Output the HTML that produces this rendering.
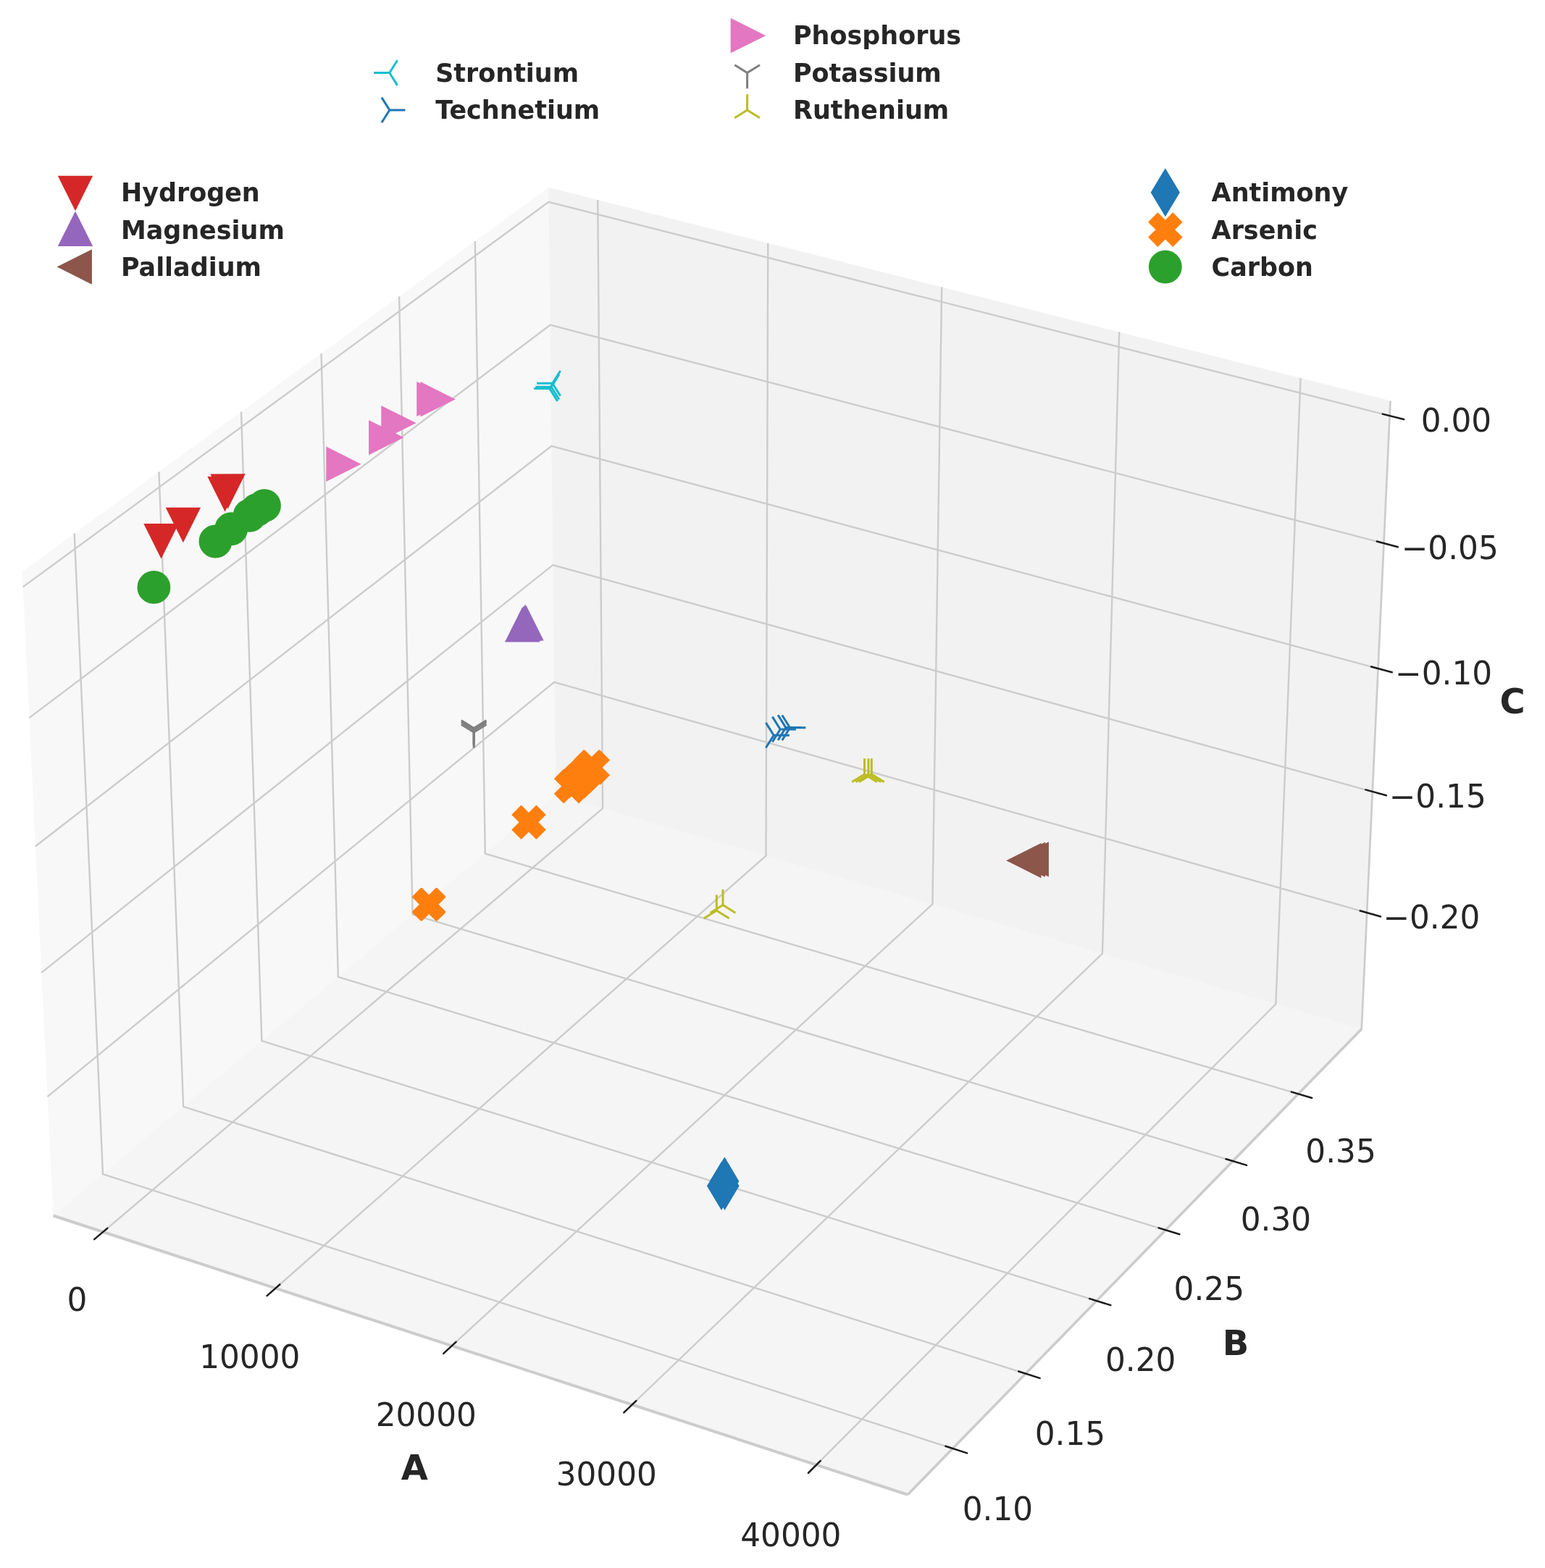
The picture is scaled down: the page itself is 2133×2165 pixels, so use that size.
<!DOCTYPE html>
<html lang="en"><head><meta charset="utf-8"><title>3D scatter plot</title>
<style>html,body{margin:0;padding:0;background:#fff}svg{display:block}text{white-space:pre}</style>
</head><body>
<svg xmlns="http://www.w3.org/2000/svg" width="2133" height="2165" viewBox="0 0 2133 2165">
<rect width="2133" height="2165" fill="#ffffff"/>
<g id="panes" stroke-linejoin="miter">
<polygon points="73.51,1678.51 767,1097.21 757.36,258.88 30.69,789.17" fill="#f2f2f2" fill-opacity="0.5" stroke="#f2f2f2" stroke-opacity="0.5" stroke-width="0"/>
<polygon points="767,1097.21 1879.8,1420.66 1919.52,553.45 757.36,258.88" fill="#e6e6e6" fill-opacity="0.5" stroke="#e6e6e6" stroke-opacity="0.5" stroke-width="0"/>
<polygon points="73.51,1678.51 1253.14,2063.77 1879.8,1420.66 767,1097.21" fill="#ececec" fill-opacity="0.5" stroke="#ececec" stroke-opacity="0.5" stroke-width="0"/>
</g>
<g id="grid" fill="none" stroke="#cccccc" stroke-width="2.4" stroke-linejoin="round" stroke-linecap="butt">
<polyline points="142.26,1700.96 832.13,1116.14 825.24,276.08"/>
<polyline points="380.42,1778.74 1057.47,1181.64 1060.24,335.65"/>
<polyline points="623.82,1858.24 1287.36,1248.46 1300.19,396.47"/>
<polyline points="872.65,1939.5 1521.94,1316.64 1545.25,458.58"/>
<polyline points="1127.08,2022.6 1761.36,1386.23 1795.58,522.04"/>
<polyline points="102.7,736.62 142,1621.1 1315.27,2000.01"/>
<polyline points="219.44,651.43 253.14,1527.94 1415.99,1896.65"/>
<polyline points="333,568.56 361.38,1437.21 1513.94,1796.12"/>
<polyline points="443.51,487.91 466.84,1348.81 1609.24,1698.32"/>
<polyline points="551.1,409.4 569.62,1262.66 1702,1603.13"/>
<polyline points="655.86,332.95 669.82,1178.67 1792.32,1510.44"/>
<polyline points="1887.16,1260.15 765.22,941.78 65.6,1514.13"/>
<polyline points="1894.81,1093.04 763.36,780.09 57.35,1342.88"/>
<polyline points="1902.59,923.05 761.47,615.74 48.96,1168.57"/>
<polyline points="1910.51,750.09 759.55,448.67 40.41,991.1"/>
<polyline points="1918.57,574.1 757.59,278.8 31.71,810.39"/>
</g>
<g id="axes" fill="none" stroke="#cccccc" stroke-linecap="butt">
<polyline points="73.51,1678.51 1253.14,2063.77" stroke-width="4.0"/>
<polyline points="1879.8,1420.66 1253.14,2063.77" stroke-width="3.6"/>
<polyline points="1879.8,1420.66 1919.52,553.45" stroke-width="2.7"/>
</g>
<g id="ticks" fill="none" stroke="#1c1c1c" stroke-width="2.5" stroke-linecap="round">
<polyline points="148.27,1695.87 130.22,1711.17"/>
<polyline points="386.32,1773.54 368.59,1789.17"/>
<polyline points="629.61,1852.92 612.22,1868.9"/>
<polyline points="878.32,1934.07 861.29,1950.41"/>
<polyline points="1132.63,2017.04 1115.97,2033.75"/>
<polyline points="1305.39,1996.81 1335.07,2006.4"/>
<polyline points="1406.2,1893.54 1435.6,1902.87"/>
<polyline points="1504.24,1793.1 1533.36,1802.17"/>
<polyline points="1599.64,1695.38 1628.48,1704.21"/>
<polyline points="1692.49,1600.26 1721.06,1608.85"/>
<polyline points="1782.9,1507.65 1811.2,1516.02"/>
<polyline points="1877.74,1257.47 1906.02,1265.5"/>
<polyline points="1885.3,1090.41 1913.84,1098.3"/>
<polyline points="1893,920.47 1921.79,928.22"/>
<polyline points="1900.84,747.56 1929.89,755.17"/>
<polyline points="1908.81,571.62 1938.12,579.08"/>
</g>
<g id="ticklabels" font-family="'DejaVu Sans', 'Liberation Sans', sans-serif" font-size="43.75" fill="#262626" text-anchor="middle">
<text x="106.44" y="1810">0</text>
<text x="344.73" y="1888.65">10000</text>
<text x="588.28" y="1969.03">20000</text>
<text x="837.26" y="2051.21">30000</text>
<text x="1091.87" y="2135.25">40000</text>
<text x="1377.4" y="2098.67">0.10</text>
<text x="1477.4" y="1994.51">0.15</text>
<text x="1574.66" y="1893.2">0.20</text>
<text x="1669.28" y="1794.63">0.25</text>
<text x="1761.38" y="1698.69">0.30</text>
<text x="1851.06" y="1605.29">0.35</text>
<text x="1976.42" y="1281.74">−0.20</text>
<text x="1984.71" y="1114.82">−0.15</text>
<text x="1993.15" y="945.01">−0.10</text>
<text x="2001.74" y="772.25">−0.05</text>
<text x="2010.48" y="596.46">0.00</text>
</g>
<g id="axlabels" font-family="'DejaVu Sans', 'Liberation Sans', sans-serif" font-weight="bold" font-size="47.9" fill="#262626" text-anchor="middle">
<text x="572.2" y="2043.3">A</text>
<text x="1706.1" y="1871">B</text>
<text x="2088" y="985">C</text>
</g>
<g id="markers">
<path transform="translate(1000.25 1630.9)" d="M0 -29.46 L17.68 0 L0 29.46 L-17.68 0Z" fill="#1f77b4" stroke="#1f77b4" stroke-width="4.17" stroke-linejoin="miter" stroke-miterlimit="10"/>
<path transform="translate(996 1637.6)" d="M0 -29.46 L17.68 0 L0 29.46 L-17.68 0Z" fill="#1f77b4" stroke="#1f77b4" stroke-width="4.17" stroke-linejoin="miter" stroke-miterlimit="10"/>
<path transform="translate(1000.5 1637.4)" d="M0 -29.46 L17.68 0 L0 29.46 L-17.68 0Z" fill="#1f77b4" stroke="#1f77b4" stroke-width="4.17" stroke-linejoin="miter" stroke-miterlimit="10"/>
<path transform="translate(592.2 1248.8)" d="M-10.42 -20.84 L0 -10.42 L10.42 -20.84 L20.84 -10.42 L10.42 0 L20.84 10.42 L10.42 20.84 L0 10.42 L-10.42 20.84 L-20.84 10.42 L-10.42 0 L-20.84 -10.42Z" fill="#ff7f0e" stroke="#ff7f0e" stroke-width="4.17" stroke-linejoin="round"/>
<path transform="translate(730 1135.3)" d="M-10.42 -20.84 L0 -10.42 L10.42 -20.84 L20.84 -10.42 L10.42 0 L20.84 10.42 L10.42 20.84 L0 10.42 L-10.42 20.84 L-20.84 10.42 L-10.42 0 L-20.84 -10.42Z" fill="#ff7f0e" stroke="#ff7f0e" stroke-width="4.17" stroke-linejoin="miter" stroke-miterlimit="10"/>
<path transform="translate(788.6 1085.6)" d="M-10.42 -20.84 L0 -10.42 L10.42 -20.84 L20.84 -10.42 L10.42 0 L20.84 10.42 L10.42 20.84 L0 10.42 L-10.42 20.84 L-20.84 10.42 L-10.42 0 L-20.84 -10.42Z" fill="#ff7f0e" stroke="#ff7f0e" stroke-width="4.17" stroke-linejoin="miter" stroke-miterlimit="10"/>
<path transform="translate(796.5 1078.7)" d="M-10.42 -20.84 L0 -10.42 L10.42 -20.84 L20.84 -10.42 L10.42 0 L20.84 10.42 L10.42 20.84 L0 10.42 L-10.42 20.84 L-20.84 10.42 L-10.42 0 L-20.84 -10.42Z" fill="#ff7f0e" stroke="#ff7f0e" stroke-width="4.17" stroke-linejoin="miter" stroke-miterlimit="10"/>
<path transform="translate(803.5 1072.2)" d="M-10.42 -20.84 L0 -10.42 L10.42 -20.84 L20.84 -10.42 L10.42 0 L20.84 10.42 L10.42 20.84 L0 10.42 L-10.42 20.84 L-20.84 10.42 L-10.42 0 L-20.84 -10.42Z" fill="#ff7f0e" stroke="#ff7f0e" stroke-width="4.17" stroke-linejoin="miter" stroke-miterlimit="10"/>
<path transform="translate(810 1065.8)" d="M-10.42 -20.84 L0 -10.42 L10.42 -20.84 L20.84 -10.42 L10.42 0 L20.84 10.42 L10.42 20.84 L0 10.42 L-10.42 20.84 L-20.84 10.42 L-10.42 0 L-20.84 -10.42Z" fill="#ff7f0e" stroke="#ff7f0e" stroke-width="4.17" stroke-linejoin="miter" stroke-miterlimit="10"/>
<path transform="translate(816.5 1058.7)" d="M-10.42 -20.84 L0 -10.42 L10.42 -20.84 L20.84 -10.42 L10.42 0 L20.84 10.42 L10.42 20.84 L0 10.42 L-10.42 20.84 L-20.84 10.42 L-10.42 0 L-20.84 -10.42Z" fill="#ff7f0e" stroke="#ff7f0e" stroke-width="4.17" stroke-linejoin="miter" stroke-miterlimit="10"/>
<path transform="translate(818.3 1059.9)" d="M-10.42 -20.84 L0 -10.42 L10.42 -20.84 L20.84 -10.42 L10.42 0 L20.84 10.42 L10.42 20.84 L0 10.42 L-10.42 20.84 L-20.84 10.42 L-10.42 0 L-20.84 -10.42Z" fill="#ff7f0e" stroke="#ff7f0e" stroke-width="4.17" stroke-linejoin="miter" stroke-miterlimit="10"/>
<circle cx="212.4" cy="810.9" r="20.84" fill="#2ca02c" stroke="#2ca02c" stroke-width="4.17"/>
<circle cx="297.5" cy="747.5" r="20.84" fill="#2ca02c" stroke="#2ca02c" stroke-width="4.17"/>
<circle cx="319.2" cy="730.3" r="20.84" fill="#2ca02c" stroke="#2ca02c" stroke-width="4.17"/>
<circle cx="344.6" cy="711.7" r="20.84" fill="#2ca02c" stroke="#2ca02c" stroke-width="4.17"/>
<circle cx="354.9" cy="704" r="20.84" fill="#2ca02c" stroke="#2ca02c" stroke-width="4.17"/>
<circle cx="365" cy="698.1" r="20.84" fill="#2ca02c" stroke="#2ca02c" stroke-width="4.17"/>
<path transform="translate(222.5 746)" d="M0 20.84 L20.83 -20.84 L-20.84 -20.83Z" fill="#d62728" stroke="#d62728" stroke-width="4.17" stroke-linejoin="miter" stroke-miterlimit="10"/>
<path transform="translate(252.9 723.7)" d="M0 20.84 L20.83 -20.84 L-20.84 -20.83Z" fill="#d62728" stroke="#d62728" stroke-width="4.17" stroke-linejoin="miter" stroke-miterlimit="10"/>
<path transform="translate(310.6 680.9)" d="M0 20.84 L20.83 -20.84 L-20.84 -20.83Z" fill="#d62728" stroke="#d62728" stroke-width="4.17" stroke-linejoin="miter" stroke-miterlimit="10"/>
<path transform="translate(314.5 677.3)" d="M0 20.84 L20.83 -20.84 L-20.84 -20.83Z" fill="#d62728" stroke="#d62728" stroke-width="4.17" stroke-linejoin="miter" stroke-miterlimit="10"/>
<path transform="translate(721.2 863.5)" d="M0 -20.84 L-20.84 20.84 L20.84 20.84Z" fill="#9467bd" stroke="#9467bd" stroke-width="4.17" stroke-linejoin="miter" stroke-miterlimit="10"/>
<path transform="translate(723 862)" d="M0 -20.84 L-20.84 20.84 L20.84 20.84Z" fill="#9467bd" stroke="#9467bd" stroke-width="4.17" stroke-linejoin="miter" stroke-miterlimit="10"/>
<path transform="translate(725 860)" d="M0 -20.84 L-20.84 20.84 L20.84 20.84Z" fill="#9467bd" stroke="#9467bd" stroke-width="4.17" stroke-linejoin="miter" stroke-miterlimit="10"/>
<path transform="translate(726.5 861.5)" d="M0 -20.84 L-20.84 20.84 L20.84 20.84Z" fill="#9467bd" stroke="#9467bd" stroke-width="4.17" stroke-linejoin="miter" stroke-miterlimit="10"/>
<path transform="translate(1425 1186.5)" d="M-20.84 0 L20.84 20.83 L20.83 -20.84Z" fill="#8c564b" stroke="#8c564b" stroke-width="4.17" stroke-linejoin="miter" stroke-miterlimit="10"/>
<path transform="translate(1420 1186.9)" d="M-20.84 0 L20.84 20.83 L20.83 -20.84Z" fill="#8c564b" stroke="#8c564b" stroke-width="4.17" stroke-linejoin="miter" stroke-miterlimit="10"/>
<path transform="translate(1414.6 1188.2)" d="M-20.84 0 L20.84 20.83 L20.83 -20.84Z" fill="#8c564b" stroke="#8c564b" stroke-width="4.17" stroke-linejoin="miter" stroke-miterlimit="10"/>
<path transform="translate(473.2 640.8)" d="M20.84 -0 L-20.84 -20.84 L-20.84 20.84Z" fill="#e377c2" stroke="#e377c2" stroke-width="4.17" stroke-linejoin="miter" stroke-miterlimit="10"/>
<path transform="translate(532 604.1)" d="M20.84 -0 L-20.84 -20.84 L-20.84 20.84Z" fill="#e377c2" stroke="#e377c2" stroke-width="4.17" stroke-linejoin="miter" stroke-miterlimit="10"/>
<path transform="translate(549.2 584.1)" d="M20.84 -0 L-20.84 -20.84 L-20.84 20.84Z" fill="#e377c2" stroke="#e377c2" stroke-width="4.17" stroke-linejoin="miter" stroke-miterlimit="10"/>
<path transform="translate(598.2 550.9)" d="M20.84 -0 L-20.84 -20.84 L-20.84 20.84Z" fill="#e377c2" stroke="#e377c2" stroke-width="4.17" stroke-linejoin="miter" stroke-miterlimit="10"/>
<path transform="translate(603.4 551.3)" d="M20.84 -0 L-20.84 -20.84 L-20.84 20.84Z" fill="#e377c2" stroke="#e377c2" stroke-width="4.17" stroke-linejoin="miter" stroke-miterlimit="10"/>
<path transform="translate(654.2 1005.6)" d="M0 0L0 21.7M0 0L17.36 -10.85M0 0L-17.36 -10.85" fill="none" stroke="#7f7f7f" stroke-width="3.0" stroke-linecap="butt"/>
<path transform="translate(654.2 1007.8)" d="M0 0L0 21.7M0 0L17.36 -10.85M0 0L-17.36 -10.85" fill="none" stroke="#7f7f7f" stroke-width="3.0" stroke-linecap="butt"/>
<path transform="translate(654.2 1011)" d="M0 0L0 21.7M0 0L17.36 -10.85M0 0L-17.36 -10.85" fill="none" stroke="#7f7f7f" stroke-width="3.0" stroke-linecap="butt"/>
<path transform="translate(1193.5 1069)" d="M0 0L-0 -21.7M0 0L-17.36 10.85M0 0L17.36 10.85" fill="none" stroke="#bcbd22" stroke-width="3.0" stroke-linecap="butt"/>
<path transform="translate(1198.9 1069)" d="M0 0L-0 -21.7M0 0L-17.36 10.85M0 0L17.36 10.85" fill="none" stroke="#bcbd22" stroke-width="3.0" stroke-linecap="butt"/>
<path transform="translate(1203.3 1069)" d="M0 0L-0 -21.7M0 0L-17.36 10.85M0 0L17.36 10.85" fill="none" stroke="#bcbd22" stroke-width="3.0" stroke-linecap="butt"/>
<path transform="translate(989.3 1257.2)" d="M0 0L-0 -21.7M0 0L-17.36 10.85M0 0L17.36 10.85" fill="none" stroke="#bcbd22" stroke-width="3.0" stroke-linecap="butt"/>
<path transform="translate(998 1249.6)" d="M0 0L-0 -21.7M0 0L-17.36 10.85M0 0L17.36 10.85" fill="none" stroke="#bcbd22" stroke-width="3.0" stroke-linecap="butt"/>
<path transform="translate(762.8 529.3)" d="M0 0L-21.7 0M0 0L10.85 17.36M0 0L10.85 -17.36" fill="none" stroke="#17becf" stroke-width="3.0" stroke-linecap="butt"/>
<path transform="translate(761.1 534.2)" d="M0 0L-21.7 0M0 0L10.85 17.36M0 0L10.85 -17.36" fill="none" stroke="#17becf" stroke-width="3.0" stroke-linecap="butt"/>
<path transform="translate(758.9 536.6)" d="M0 0L-21.7 0M0 0L10.85 17.36M0 0L10.85 -17.36" fill="none" stroke="#17becf" stroke-width="3.0" stroke-linecap="butt"/>
<path transform="translate(1068.2 1015.2)" d="M0 0L21.7 -0M0 0L-10.85 -17.36M0 0L-10.85 17.36" fill="none" stroke="#1f77b4" stroke-width="3.0" stroke-linecap="butt"/>
<path transform="translate(1077.2 1007)" d="M0 0L21.7 -0M0 0L-10.85 -17.36M0 0L-10.85 17.36" fill="none" stroke="#1f77b4" stroke-width="3.0" stroke-linecap="butt"/>
<path transform="translate(1084.9 1004.6)" d="M0 0L21.7 -0M0 0L-10.85 -17.36M0 0L-10.85 17.36" fill="none" stroke="#1f77b4" stroke-width="3.0" stroke-linecap="butt"/>
<path transform="translate(1090.6 1004.8)" d="M0 0L21.7 -0M0 0L-10.85 -17.36M0 0L-10.85 17.36" fill="none" stroke="#1f77b4" stroke-width="3.0" stroke-linecap="butt"/>
</g>
<g id="legends" font-family="'DejaVu Sans', 'Liberation Sans', sans-serif" font-weight="bold" font-size="34.95" fill="#262626">
<path transform="translate(104 265.7)" d="M0 20.84 L20.83 -20.84 L-20.84 -20.83Z" fill="#d62728" stroke="#d62728" stroke-width="4.17" stroke-linejoin="miter" stroke-miterlimit="10"/>
<text x="166.9" y="278.25">Hydrogen</text>
<path transform="translate(104 317.1)" d="M0 -20.84 L-20.84 20.84 L20.84 20.84Z" fill="#9467bd" stroke="#9467bd" stroke-width="4.17" stroke-linejoin="miter" stroke-miterlimit="10"/>
<text x="166.9" y="329.65">Magnesium</text>
<path transform="translate(104 368.5)" d="M-20.84 0 L20.84 20.83 L20.83 -20.84Z" fill="#8c564b" stroke="#8c564b" stroke-width="4.17" stroke-linejoin="miter" stroke-miterlimit="10"/>
<text x="166.9" y="381.05">Palladium</text>
<path transform="translate(537.8 100.55)" d="M0 0L-21.7 0M0 0L10.85 17.36M0 0L10.85 -17.36" fill="none" stroke="#17becf" stroke-width="3.0" stroke-linecap="butt"/>
<text x="601.2" y="112.75">Strontium</text>
<path transform="translate(537.8 151.95)" d="M0 0L21.7 -0M0 0L-10.85 -17.36M0 0L-10.85 17.36" fill="none" stroke="#1f77b4" stroke-width="3.0" stroke-linecap="butt"/>
<text x="601.2" y="164.15">Technetium</text>
<path transform="translate(1031.6 49.15)" d="M20.84 -0 L-20.84 -20.84 L-20.84 20.84Z" fill="#e377c2" stroke="#e377c2" stroke-width="4.17" stroke-linejoin="miter" stroke-miterlimit="10"/>
<text x="1095" y="61.35">Phosphorus</text>
<path transform="translate(1031.6 100.55)" d="M0 0L0 21.7M0 0L17.36 -10.85M0 0L-17.36 -10.85" fill="none" stroke="#7f7f7f" stroke-width="3.0" stroke-linecap="butt"/>
<text x="1095" y="112.75">Potassium</text>
<path transform="translate(1031.6 151.95)" d="M0 0L-0 -21.7M0 0L-17.36 10.85M0 0L17.36 10.85" fill="none" stroke="#bcbd22" stroke-width="3.0" stroke-linecap="butt"/>
<text x="1095" y="164.15">Ruthenium</text>
<path transform="translate(1608.8 265.7)" d="M0 -29.46 L17.68 0 L0 29.46 L-17.68 0Z" fill="#1f77b4" stroke="#1f77b4" stroke-width="4.17" stroke-linejoin="miter" stroke-miterlimit="10"/>
<text x="1672.6" y="278.25">Antimony</text>
<path transform="translate(1608.8 317.1)" d="M-10.42 -20.84 L0 -10.42 L10.42 -20.84 L20.84 -10.42 L10.42 0 L20.84 10.42 L10.42 20.84 L0 10.42 L-10.42 20.84 L-20.84 10.42 L-10.42 0 L-20.84 -10.42Z" fill="#ff7f0e" stroke="#ff7f0e" stroke-width="4.17" stroke-linejoin="miter" stroke-miterlimit="10"/>
<text x="1672.6" y="329.65">Arsenic</text>
<circle cx="1608.8" cy="368.5" r="20.84" fill="#2ca02c" stroke="#2ca02c" stroke-width="4.17"/>
<text x="1672.6" y="381.05">Carbon</text>
</g>
</svg>
</body></html>
